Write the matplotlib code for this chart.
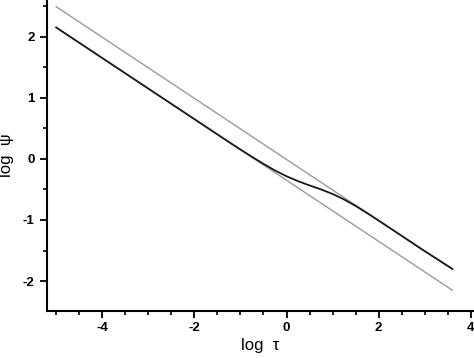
import matplotlib
matplotlib.use("Agg")
import matplotlib.pyplot as plt
from matplotlib.ticker import MultipleLocator

# Data
curve_x = [-5.0, -4.0, -3.0, -2.0, -1.5, -1.25, -1.0, -0.75, -0.5, -0.25, 0.0, 0.25, 0.5,
           0.75, 1.0, 1.25, 1.5, 1.75, 2.0, 2.5, 3.0, 3.6]
curve_y = [2.15, 1.65, 1.15, 0.65, 0.40, 0.275, 0.153, 0.033, -0.082, -0.19, -0.285, -0.365, -0.435,
           -0.50, -0.575, -0.665, -0.77, -0.887, -1.01, -1.26, -1.51, -1.80]
upper_x = [-5.0, 3.6]
upper_y = [2.49, -1.81]
lower_x = [-5.0, 3.6]
lower_y = [2.15, -2.15]

plt.rcParams['font.family'] = ['Liberation Sans', 'DejaVu Sans']
plt.rcParams['axes.unicode_minus'] = False

fig = plt.figure(figsize=(4.74, 3.58), dpi=100)
ax = fig.add_axes([47/474, 1 - 311/358, (474 - 47)/474, 311/358])

ax.plot(upper_x, upper_y, color='#9a9a9a', lw=1.0)
ax.plot(lower_x, lower_y, color='#9a9a9a', lw=1.0)
ax.plot(curve_x, curve_y, color='#1a1a1a', lw=1.3, solid_joinstyle='round')

ax.set_xlim(-5.2, 4.07)
ax.set_ylim(-2.49, 2.6)

for s in ['top', 'right']:
    ax.spines[s].set_visible(False)
for s in ['left', 'bottom']:
    ax.spines[s].set_linewidth(1.5)
    ax.spines[s].set_color('black')

ax.xaxis.set_major_locator(MultipleLocator(2))
ax.xaxis.set_minor_locator(MultipleLocator(0.5))
ax.yaxis.set_major_locator(MultipleLocator(1))
ax.yaxis.set_minor_locator(MultipleLocator(0.5))
ax.tick_params(which='major', direction='out', length=5, width=1.3, labelsize=9.5)
ax.tick_params(axis='x', which='major', pad=3)
ax.tick_params(axis='y', which='major', pad=4)
ax.tick_params(which='minor', direction='out', length=3, width=1.2)
for lab in ax.get_xticklabels() + ax.get_yticklabels():
    lab.set_fontweight('bold')

ax.set_xlabel('log  τ', fontsize=12, labelpad=3)
ax.set_ylabel('log  ψ', fontsize=12, labelpad=6)

fig.savefig('out.png', dpi=100)
